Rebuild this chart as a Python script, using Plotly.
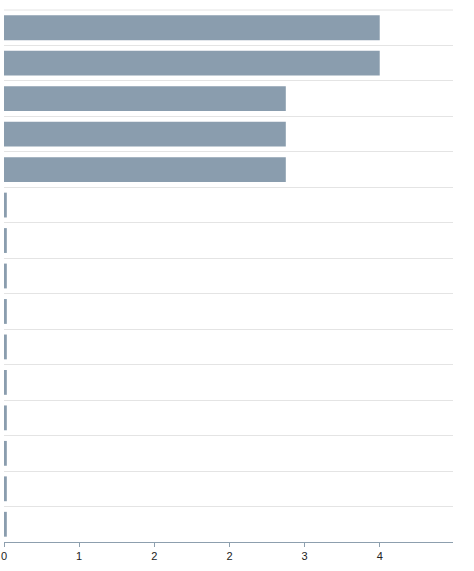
import plotly.graph_objects as go

# categories, top to bottom (the chart shows no labels for them)
categories = ["item %d" % i for i in range(1, 16)]
values = [4, 4, 3, 3, 3, 0.03, 0.03, 0.03, 0.03, 0.03, 0.03, 0.03, 0.03, 0.03, 0.03]

bar_color = "#8a9dae"
axis_color = "#8d9fae"
grid_color = "#e4e4e4"

fig = go.Figure()
fig.add_trace(go.Bar(x=values, y=categories, orientation="h",
                     marker=dict(color=bar_color, line=dict(width=0)),
                     hoverinfo="x"))

fig.update_layout(
    width=474, height=571,
    margin=dict(l=4, r=21, t=10, b=29),
    paper_bgcolor="white", plot_bgcolor="white",
    bargap=0.3,
    showlegend=False,
    font=dict(family="Liberation Sans, Arial, sans-serif", size=11, color="#222222"),
)
fig.update_xaxes(range=[0, 4.78], tick0=0, dtick=0.8, tickformat=".0f",
                 automargin=False,
                 showgrid=False, zeroline=False,
                 showline=True, linecolor=axis_color, linewidth=1,
                 ticks="outside", ticklen=4, tickcolor=axis_color)
fig.update_yaxes(type="category", autorange="reversed", tickson="boundaries",
                 automargin=False,
                 showticklabels=False, ticks="",
                 showgrid=True, gridcolor=grid_color, gridwidth=1,
                 zeroline=False, showline=False)

# top boundary line of the first row
fig.add_shape(type="line", xref="paper", yref="paper", x0=0, x1=1, y0=1, y1=1,
              line=dict(color=grid_color, width=1))

# drop the page's default body margin so the figure sits at the window corner
fig.write_html("out.html", config={"displayModeBar": False},
               post_script="document.body.style.margin='0';")
